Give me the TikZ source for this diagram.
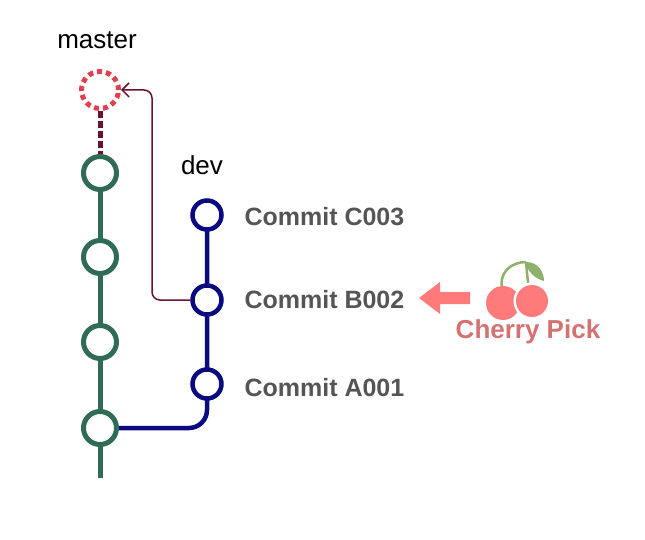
\documentclass[tikz,border=0pt]{standalone}
\usepackage{fontspec}
\setmainfont{Liberation Sans}
\usetikzlibrary{arrows.meta}
\definecolor{gr}{HTML}{2F6B55}
\definecolor{bl}{HTML}{0A0A80}
\definecolor{mr}{HTML}{6B1030}
\definecolor{rd}{HTML}{E04050}
\definecolor{pk}{HTML}{FF7B7B}
\definecolor{tg}{HTML}{555555}
\definecolor{lf}{HTML}{8DB06A}
\begin{document}
\begin{tikzpicture}[x=1pt,y=-1pt,
  gc/.style={circle,draw=gr,line width=5pt,fill=white,minimum size=33pt,inner sep=0},
  bc/.style={circle,draw=bl,line width=4.5pt,fill=white,minimum size=29pt,inner sep=0},
  lab/.style={anchor=west,text=tg,font=\bfseries\fontsize{25}{28}\selectfont},
  tl/.style={font=\fontsize{26}{30}\selectfont}]
\useasboundingbox (0,0) rectangle (645,540);
\coordinate (bot) at (100,478);
\draw[gr,line width=5pt] (100,173) -- (bot);
\node[circle,draw=rd,line width=5pt,dash pattern=on 5pt off 4pt,minimum size=37pt,inner sep=0] (m) at (100,90) {};
\node[gc] (g1) at (100,173) {};
\node[gc] (g2) at (100,257) {};
\node[gc] (g3) at (100,342) {};
\draw[mr,line width=5pt,dash pattern=on 7pt off 3pt] (m) -- (g1);
\draw[bl,line width=4.5pt] (207,215) -- (207,410) arc[start angle=0,end angle=90,radius=18] -- (100,428);
\node[gc] (g4) at (100,428) {};
\node[bc] (c3) at (207,215) {};
\node[bc] (c2) at (207,300) {};
\node[bc] (c1) at (207,384) {};
\node[tl] (master) at (97,40) {master};
\node[tl] (dev) at (202,165) {dev};
\node[lab] (t3) at (241,217) {Commit C003};
\node[lab] (t2) at (241,300) {Commit B002};
\node[lab] (t1) at (241,388) {Commit A001};
\draw[mr,line width=1.5pt,-{Straight Barb[length=7pt,width=14pt]},rounded corners=8pt] (c2.west) -- (152,300) -- (152,90) -- (m.east);
% cherry
\fill[pk] (470,292) -- (440,292) -- (440,282) -- (419,298) -- (440,314) -- (440,304) -- (470,304) -- cycle;
\draw[lf,line width=2.5pt] (503,292) .. controls (497,272) and (512,262) .. (526,262);
\draw[lf,line width=2.5pt] (530,292) .. controls (527,280) and (527,270) .. (526,262);
\fill[lf] (526,262) .. controls (538,262) and (544,272) .. (544,281) .. controls (535,279) and (526,270) .. (526,262);
\fill[pk] (503,303) circle (17);
\fill[white] (532,301) circle (18.5);
\fill[pk] (532,301) circle (16);
\node[font=\bfseries\fontsize{26}{30}\selectfont,text=pk!75!tg] (cp) at (528,332) {Cherry Pick};
\end{tikzpicture}
\end{document}
